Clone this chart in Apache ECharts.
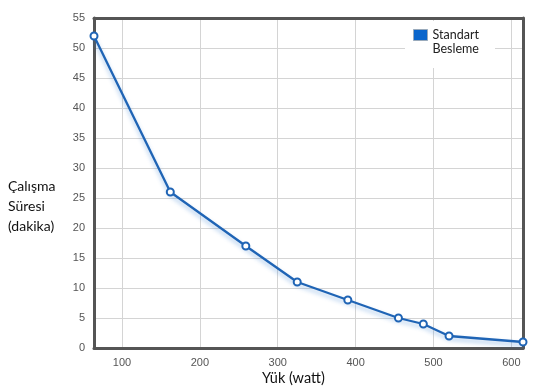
<!DOCTYPE html>
<html>
<head>
<meta charset="utf-8">
<script src="https://cdn.jsdelivr.net/npm/echarts@6/dist/echarts.min.js"></script>
<style>
html,body{margin:0;padding:0;background:#fff;}
#c{width:545px;height:388px;}
</style>
</head>
<body>
<div id="c"></div>
<script>
var seriesName = 'Standart\nBesleme';
var loadWatts = [64, 162, 259, 325, 390, 455, 487, 520, 615];
var durationMin = [52, 26, 17, 11, 8, 5, 4, 2, 1];
var xAxisTitle = 'Yük (watt)';
var yAxisTitle = 'Çalışma\nSüresi\n(dakika)';
var xMin = 64, xMax = 615, yMin = 0, yMax = 55, yStep = 5;

var points = loadWatts.map(function (x, i) { return [x, durationMin[i]]; });

var border = {show: true, onZero: false, lineStyle: {color: '#555', width: 3}};
var grid = {color: '#d4d4d4', width: 1};
var labelFont = {color: '#555', fontFamily: 'Liberation Sans, Arial', fontSize: 11};

var chart = echarts.init(document.getElementById('c'), null, {renderer: 'canvas'});
chart.setOption({
  animation: false,
  backgroundColor: '#fff',
  grid: {left: 94, right: 22, top: 18, bottom: 40, show: false},
  xAxis: [{
    type: 'value', position: 'bottom',
    min: xMin, max: xMax,
    axisLine: border, axisTick: {show: false}, z: 1,
    axisLabel: Object.assign({margin: 9, showMinLabel: false, showMaxLabel: false,
      formatter: function (v) { return v % 100 === 0 ? String(v) : ''; }}, labelFont),
    splitLine: {show: true, lineStyle: grid}
  }, {
    type: 'value', position: 'top',
    min: xMin, max: xMax,
    axisLine: border, axisTick: {show: false}, axisLabel: {show: false},
    splitLine: {show: false}, z: 1
  }],
  yAxis: [{
    type: 'value', position: 'left',
    min: yMin, max: yMax, interval: yStep,
    axisLine: border, axisTick: {show: false}, z: 1,
    axisLabel: Object.assign({margin: 9}, labelFont),
    splitLine: {show: true, lineStyle: grid}
  }, {
    type: 'value', position: 'right',
    min: yMin, max: yMax, interval: yStep,
    axisLine: border, axisTick: {show: false}, axisLabel: {show: false},
    splitLine: {show: false}, z: 1
  }],
  legend: {
    left: 413, top: 14,
    orient: 'vertical',
    padding: 0,
    z: 5,
    itemWidth: 14, itemHeight: 11,
    formatter: function (name) { return ' \n' + name; },
    textStyle: {color: '#222', fontFamily: 'Lato, Open Sans, sans-serif', fontSize: 12.5, lineHeight: 14},
    data: [{name: seriesName, icon: 'rect', itemStyle: {color: '#0b66cc', borderColor: '#9ab', borderWidth: 1}}]
  },
  graphic: [
    {type: 'rect', left: 405, top: 21, shape: {width: 90, height: 47}, style: {fill: '#fff'}, z: 2, silent: true},
    {type: 'text', left: 8, top: 176, style: {text: yAxisTitle, fill: '#111', font: '14px Lato, "Open Sans", sans-serif', lineHeight: 20}},
    {type: 'text', left: 262, top: 371, style: {text: xAxisTitle, fill: '#111', font: '14.5px Lato, "Open Sans", sans-serif'}}
  ],
  series: [{
    name: seriesName,
    type: 'line',
    data: points,
    symbol: 'emptyCircle',
    symbolSize: 7,
    showAllSymbol: true,
    itemStyle: {color: '#1f64b5', borderWidth: 2},
    lineStyle: {color: '#1f64b5', width: 2.3, shadowColor: 'rgba(60,130,210,0.45)', shadowBlur: 4, shadowOffsetY: 3},
    clip: false,
    z: 3
  }]
});
</script>
</body>
</html>
